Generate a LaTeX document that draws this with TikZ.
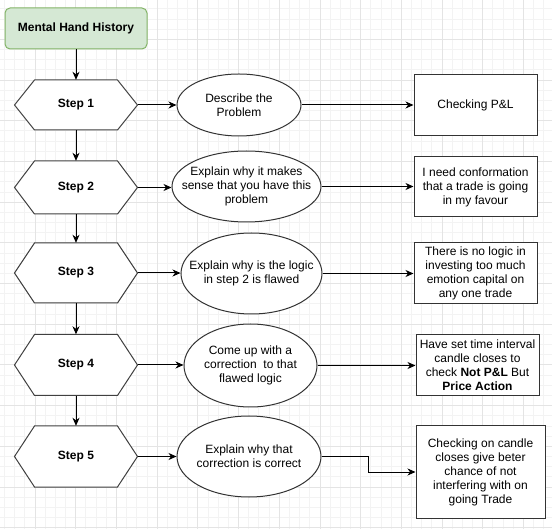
\documentclass[tikz,border=0pt]{standalone}
\usepackage{fontspec}
\setmainfont{Liberation Sans}
\usetikzlibrary{arrows.meta, positioning, calc, shapes.geometric}

\definecolor{gridminor}{RGB}{243,243,243}
\definecolor{gridmajor}{RGB}{228,228,228}
\definecolor{titlefill}{HTML}{D5E8D4}
\definecolor{titleline}{HTML}{82B366}

\newcommand{\diagfont}{\fontsize{12}{14}\selectfont}

\tikzset{
    conn/.style={-{Stealth[length=8pt, width=7pt, inset=2.5pt]}, line width=1pt, black},
    stepbox/.style={minimum width=123pt, inner sep=0pt, font=\diagfont\bfseries},
    hexline/.style={draw=black!75, fill=white, line width=1pt},
    oval/.style={ellipse, draw=black!80, fill=white, line width=1pt, inner sep=0pt},
    notebox/.style={rectangle, draw=black!80, fill=white, line width=1pt, align=center, inner sep=0pt},
}

\begin{document}
\begin{tikzpicture}[x=1pt, y=-1pt, font=\diagfont]
    \useasboundingbox (0,0) rectangle (552,529);

    % the canvas grid
    \foreach \i in {0,...,54}
        \draw[gridminor, line width=0.8pt] (4.475+10.175*\i, 0) -- (4.475+10.175*\i, 529);
    \foreach \i in {0,...,52}
        \draw[gridminor, line width=0.8pt] (0, 8.775+10.175*\i) -- (552, 8.775+10.175*\i);
    \foreach \i in {1,...,14}
        \draw[gridmajor, line width=0.8pt] (-5.7+40.7*\i, 0) -- (-5.7+40.7*\i, 529);
    \foreach \i in {1,...,13}
        \draw[gridmajor, line width=0.8pt] (0, -1.4+40.7*\i) -- (552, -1.4+40.7*\i);

    % title
    \node[draw=titleline, fill=titlefill, rounded corners=5pt, line width=1pt,
          minimum width=142pt, minimum height=41pt, font=\diagfont\bfseries] (title) at (76,28.5) {Mental Hand History};

    % the steps (hexagons)
    \foreach \i/\y/\h in {1/105/50, 2/187.5/53, 3/273/60, 4/365/61, 5/456.5/61} {
        \draw[hexline] (14.5,\y) -- (34.5,\y-\h/2) -- (117.5,\y-\h/2) -- (137.5,\y)
            -- (117.5,\y+\h/2) -- (34.5,\y+\h/2) -- cycle;
        \node[stepbox, minimum height=\h] (s\i) at (76,\y) {Step \i};
    }

    % questions
    \node[oval, minimum width=124pt, minimum height=62pt,
          label={[align=center]center:Describe the\\Problem}] (e1) at (239,105) {};
    \node[oval, minimum width=149pt, minimum height=71pt,
          label={[align=center]center:Explain why it makes\\sense that you have this\\problem}] (e2) at (246.5,186.5) {};
    \node[oval, minimum width=141pt, minimum height=81pt,
          label={[align=center]center:Explain why is the logic\\in step 2 is flawed}] (e3) at (251.5,273.5) {};
    \node[oval, minimum width=133pt, minimum height=83pt,
          label={[align=center]center:Come up with a\\correction~ to that\\flawed logic}] (e4) at (250.5,365.5) {};
    \node[oval, minimum width=144pt, minimum height=81pt,
          label={[align=center]center:Explain why that\\correction is correct}] (e5) at (249,456.5) {};

    % answers
    \node[notebox, minimum width=123pt, minimum height=61pt] (b1) at (475.5,105.5) {Checking P\&L};
    \node[notebox, minimum width=123pt, minimum height=60pt] (b2) at (475.5,187)
        {I need conformation\\that a trade is going\\in my favour};
    \node[notebox, minimum width=123pt, minimum height=61pt] (b3) at (475.5,273.5)
        {There is no logic in\\investing too much\\emotion capital on\\any one trade};
    \node[notebox, minimum width=123pt, minimum height=61pt] (b4) at (477.5,365.5)
        {Have set time interval\\candle closes to\\check \textbf{Not P\&L} But\\\textbf{Price Action}};
    \node[notebox, minimum width=129pt, minimum height=92pt] (b5) at (480.5,472)
        {Checking on candle\\closes give beter\\chance of not\\interfering with on\\going Trade};

    % connectors
    \draw[conn] (title) -- (s1);
    \foreach \i/\j in {1/2, 2/3, 3/4, 4/5}
        \draw[conn] (s\i) -- (s\j);
    \foreach \i in {1,...,5}
        \draw[conn] (s\i.east) -- (s\i.east -| e\i.west);
    \foreach \i in {1,...,4}
        \draw[conn] (e\i.east) -- (e\i.east -| b\i.west);
    \draw[conn] (e5.east) -- ++(47,0) |- (b5.west);

\end{tikzpicture}
\end{document}
